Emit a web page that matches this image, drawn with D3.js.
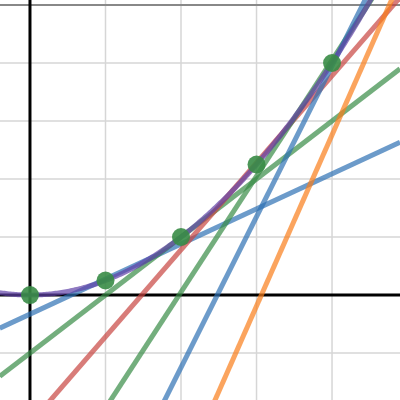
<!DOCTYPE html><html><head><script src="https://cdn.jsdelivr.net/npm/d3@7"></script>
<style>body{margin:0}svg{display:block}</style></head><body><script>
const pointsX=[0,1,2,3,4];
const pointsY=[0,0.25,1,2.25,4];
const lineSlopes=[0.605,1,1.5,2,2.6,2.95];
const lineIntercepts=[-0.33,-1,-2.22,-3.95,-6.45,-9.04];
const lineColors=["#2d70b3","#388c46","#c74440","#388c46","#2d70b3","#fa7e19"];
const gridX=[0,1,2,3,4];
const gridY=[-1,0,1,2,3,4,5];
const W=400,H=400;
const x=d3.scaleLinear().domain([-0.397,4.9]).range([0,W]);
const y=d3.scaleLinear().domain([-1.81,5.086]).range([H,0]);
const svg=d3.select("body").append("svg").attr("width",W).attr("height",H);
svg.append("rect").attr("width",W).attr("height",H).attr("fill","#fff");
svg.selectAll(".gx").data(gridX).join("line").attr("x1",d=>x(d)).attr("x2",d=>x(d)).attr("y1",0).attr("y2",H).attr("stroke","#d6d6d6").attr("stroke-width",1.5);
svg.selectAll(".gy").data(gridY).join("line").attr("y1",d=>y(d)).attr("y2",d=>y(d)).attr("x1",0).attr("x2",W).attr("stroke",d=>d===5?"#888":"#d6d6d6").attr("stroke-width",d=>d===5?2:1.5);
svg.append("line").attr("x1",x(0)).attr("x2",x(0)).attr("y1",0).attr("y2",H).attr("stroke","#000").attr("stroke-width",3);
svg.append("line").attr("y1",y(0)).attr("y2",y(0)).attr("x1",0).attr("x2",W).attr("stroke","#000").attr("stroke-width",3);
const xs=[-0.4,4.9];
lineSlopes.forEach((m,i)=>{
  svg.append("line").attr("x1",x(xs[0])).attr("y1",y(m*xs[0]+lineIntercepts[i])).attr("x2",x(xs[1])).attr("y2",y(m*xs[1]+lineIntercepts[i]))
   .attr("stroke",lineColors[i]).attr("stroke-width",5).attr("stroke-opacity",0.7);
});
const cx=d3.range(-0.4,4.7,0.02);
svg.append("path").datum(cx).attr("d",d3.line().x(d=>x(d)).y(d=>y(d*d/4))).attr("fill","none").attr("stroke","#6042a6").attr("stroke-width",5).attr("stroke-opacity",0.7);
svg.selectAll(".pt").data(pointsX).join("circle").attr("cx",d=>x(d)).attr("cy",(d,i)=>y(pointsY[i])).attr("r",9).attr("fill","#388c46").attr("fill-opacity",0.9);
</script></body></html>
